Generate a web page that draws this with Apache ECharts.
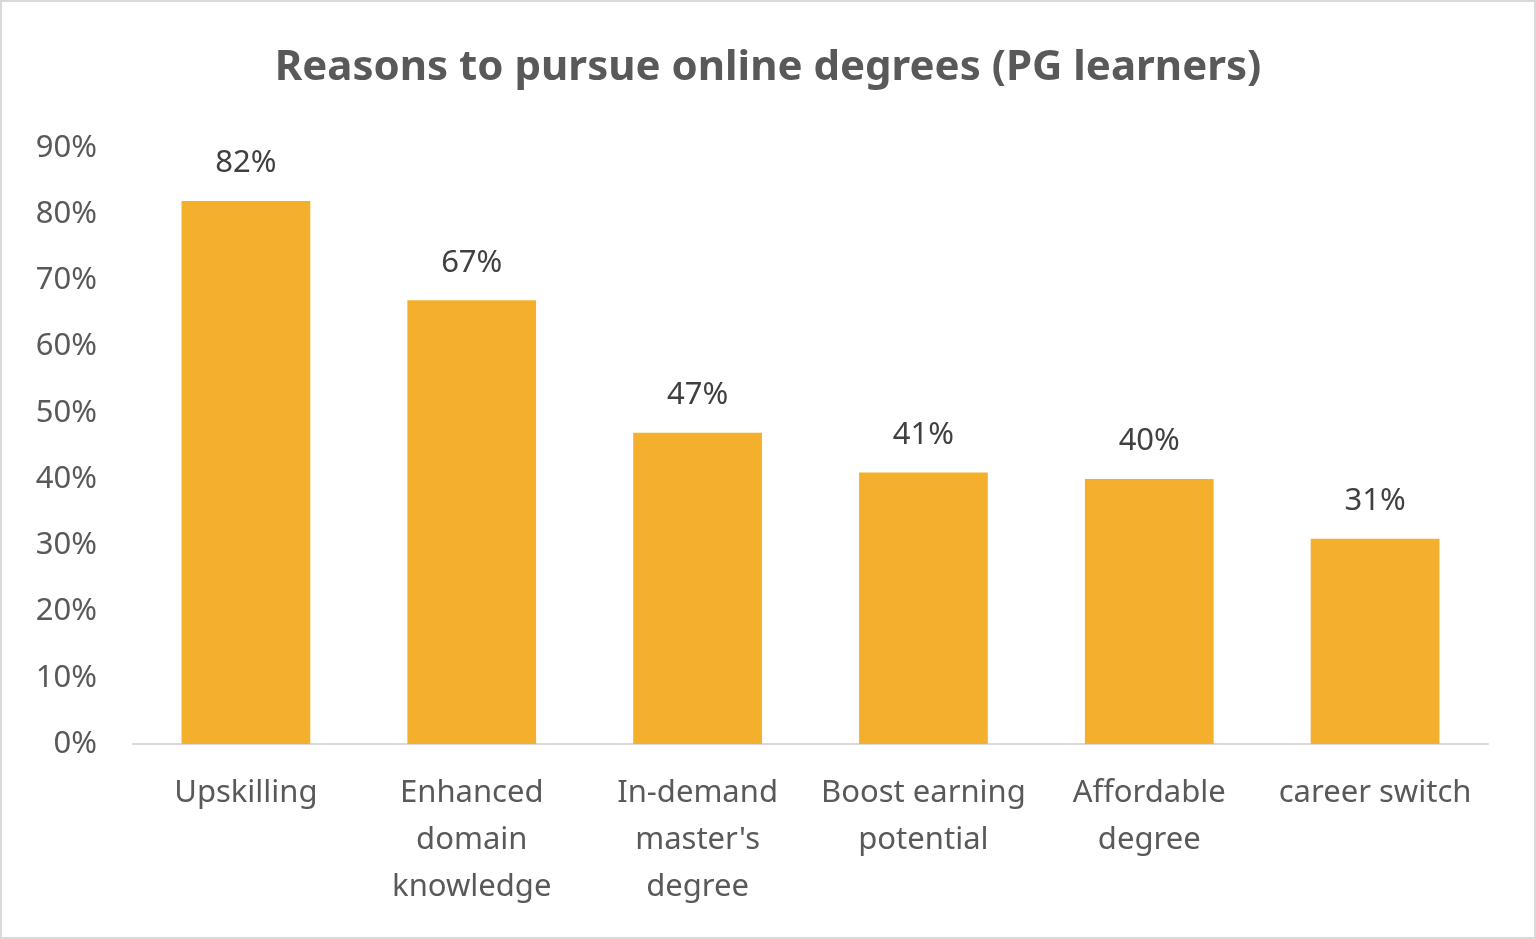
<!DOCTYPE html>
<html>
<head>
<meta charset="utf-8">
<script src="https://cdn.jsdelivr.net/npm/echarts@6/dist/echarts.min.js"></script>
<style>
  html, body { margin: 0; padding: 0; background: #fff; }
  #chart { width: 1536px; height: 939px; box-sizing: border-box; border: 2px solid #d9d9d9; }
</style>
</head>
<body>
<div id="chart"></div>
<script>
// data
const categories = ['Upskilling', 'Enhanced\ndomain\nknowledge', "In-demand\nmaster's\ndegree", 'Boost earning\npotential', 'Affordable\ndegree', 'career switch'];
const values = [82, 67, 47, 41, 40, 31];

const chart = echarts.init(document.getElementById('chart'));

const option = {
  backgroundColor: '#fff',
  animation: false,
  title: {
    text: 'Reasons to pursue online degrees (PG learners)',
    left: 'center',
    top: 40,
    textStyle: {
      color: '#595959',
      fontFamily: 'Noto Sans',
      fontWeight: 'bold',
      fontSize: 42
    }
  },
  grid: { left: 131, right: 46, top: 146, bottom: 193, containLabel: false },
  xAxis: {
    type: 'category',
    data: categories,
    axisLine: { lineStyle: { color: '#d9d9d9', width: 2 } },
    axisTick: { show: false },
    axisLabel: {
      color: '#595959',
      fontFamily: 'Noto Sans',
      fontSize: 31,
      lineHeight: 47,
      margin: 26,
      interval: 0
    }
  },
  yAxis: {
    type: 'value',
    min: 0,
    max: 90,
    interval: 10,
    axisLine: { show: false },
    axisTick: { show: false },
    splitLine: { show: false },
    axisLabel: {
      color: '#595959',
      fontFamily: 'Noto Sans',
      fontSize: 31,
      margin: 36,
      formatter: v => v + '%'
    }
  },
  series: [{
    type: 'bar',
    data: values,
    barWidth: '57%',
    itemStyle: { color: '#f4b02c' },
    label: {
      show: true,
      position: 'top',
      distance: 22,
      color: '#404040',
      fontFamily: 'Noto Sans',
      fontSize: 31,
      formatter: p => p.value + '%'
    }
  }]
};

chart.setOption(option);
window.addEventListener('resize', () => chart.resize());
</script>
</body>
</html>
